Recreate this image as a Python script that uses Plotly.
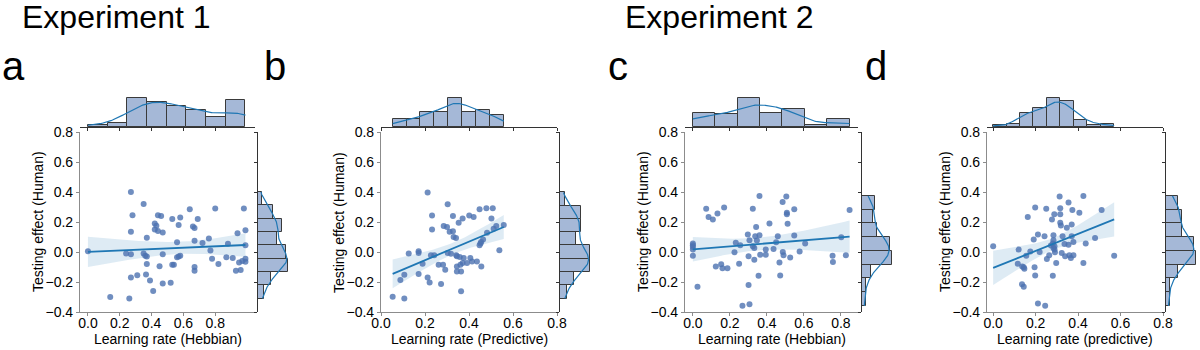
import numpy as np
import plotly.graph_objects as go

# ---------------- data ----------------
a_x = [0.00, 0.27, 0.35, 0.28, 0.27, 0.44, 0.46, 0.42, 0.43, 0.42, 0.37, 0.44, 0.47, 0.53, 0.58, 0.57,
       0.64, 0.66, 0.67, 0.69, 0.80, 0.98, 0.99, 0.94, 0.76, 0.72, 0.67, 0.56, 0.88, 0.77, 0.99, 0.24,
       0.27, 0.35, 0.36, 0.37, 0.47, 0.58, 0.57, 0.56, 0.78, 0.87, 0.91, 0.99, 0.99, 0.97, 0.95, 0.93,
       0.96, 0.82, 0.67, 0.67, 0.53, 0.54, 0.45, 0.37, 0.365, 0.31, 0.27, 0.39, 0.41, 0.47, 0.52, 0.14, 0.26]
a_y = [0.005, 0.40, 0.32, 0.245, 0.135, 0.245, 0.24, 0.19, 0.175, 0.15, 0.095, 0.14, 0.13, 0.22, 0.23, 0.18,
       0.285, 0.17, 0.16, 0.22, 0.29, 0.29, 0.145, 0.125, 0.09, 0.06, 0.075, 0.065, 0.055, 0.01, 0.045, -0.01,
       -0.015, -0.01, -0.025, -0.03, -0.015, -0.025, -0.03, -0.035, -0.045, -0.035, -0.04, -0.045, -0.065, -0.06, -0.07, -0.125,
       -0.12, -0.08, -0.10, -0.125, -0.085, -0.085, -0.095, -0.08, -0.15, -0.155, -0.17, -0.19, -0.26, -0.21, -0.205, -0.30, -0.31]

b_x = [0.053, 0.106, 0.088, 0.106, 0.126, 0.171, 0.171, 0.189, 0.171, 0.212, 0.221, 0.273, 0.212, 0.232, 0.232, 0.227,
       0.242, 0.262, 0.282, 0.292, 0.303, 0.285, 0.300, 0.312, 0.327, 0.330, 0.341, 0.327, 0.353, 0.371, 0.401, 0.421,
       0.448, 0.479, 0.508, 0.502, 0.512, 0.524, 0.558, 0.482, 0.464, 0.455, 0.452, 0.448, 0.538, 0.342, 0.345, 0.358,
       0.318, 0.303, 0.376, 0.406, 0.414, 0.391, 0.371, 0.361, 0.345, 0.364, 0.345, 0.436, 0.456, 0.364]
b_y = [-0.298, -0.31, -0.186, -0.152, -0.01, 0.005, -0.007, -0.078, -0.146, -0.17, -0.204, -0.213, 0.397, 0.244, 0.15, -0.022,
       -0.022, -0.085, -0.085, -0.119, 0.318, 0.173, 0.166, 0.135, 0.139, 0.10, 0.094, 0.24, 0.195, 0.224, 0.244, 0.233,
       0.285, 0.291, 0.291, 0.224, 0.155, 0.173, 0.18, 0.128, 0.083, 0.067, 0.056, 0.045, 0.011, -0.022, -0.029, -0.034,
       -0.011, -0.007, -0.04, -0.04, -0.063, -0.074, -0.074, -0.085, -0.096, -0.13, -0.13, -0.063, -0.096, -0.262]

c_x = [0.0, 0.0, 0.0, 0.0, 0.0, 0.025, 0.072, 0.085, 0.108, 0.133, 0.169, 0.124, 0.153, 0.160, 0.187, 0.232,
       0.225, 0.250, 0.256, 0.268, 0.306, 0.301, 0.297, 0.301, 0.306, 0.324, 0.324, 0.332, 0.332, 0.337, 0.346, 0.342,
       0.360, 0.360, 0.355, 0.364, 0.394, 0.394, 0.414, 0.436, 0.450, 0.459, 0.468, 0.472, 0.485, 0.486, 0.490, 0.505,
       0.508, 0.508, 0.512, 0.526, 0.548, 0.548, 0.577, 0.607, 0.755, 0.757, 0.802, 0.827, 0.847]
c_y = [0.056, 0.045, 0.034, 0.016, -0.025, -0.231, 0.289, 0.233, 0.217, 0.256, 0.296, -0.096, -0.081, -0.108, -0.108, 0.061,
       -0.002, -0.078, 0.045, -0.359, -0.348, -0.22, 0.117, -0.029, 0.078, 0.289, 0.038, 0.027, -0.052, 0.105, 0.076, 0.166,
       0.374, 0.112, -0.159, -0.018, -0.018, 0.016, 0.19, 0.02, 0.065, 0.105, -0.07, -0.157, 0.334, 0.0, -0.022, 0.37,
       0.262, 0.251, 0.188, -0.036, 0.285, 0.11, 0.004, 0.056, -0.025, -0.067, 0.099, -0.022, 0.28]

d_x = [0.0, 0.116, 0.120, 0.137, 0.144, 0.147, 0.156, 0.136, 0.144, 0.163, 0.191, 0.198, 0.175, 0.195, 0.198, 0.211,
       0.219, 0.211, 0.245, 0.242, 0.250, 0.253, 0.264, 0.272, 0.281, 0.277, 0.284, 0.289, 0.284, 0.284, 0.288, 0.291,
       0.281, 0.289, 0.297, 0.316, 0.316, 0.313, 0.316, 0.319, 0.323, 0.327, 0.336, 0.339, 0.347, 0.355, 0.355, 0.359,
       0.366, 0.370, 0.370, 0.373, 0.378, 0.378, 0.406, 0.425, 0.425, 0.436, 0.480, 0.511, 0.570]
d_y = [0.038, -0.078, 0.016, -0.096, -0.101, -0.112, -0.025, -0.215, -0.231, 0.233, 0.083, 0.296, 0.004, -0.101, -0.157, 0.117,
       0.0, -0.343, -0.359, 0.105, 0.289, -0.047, -0.022, 0.043, 0.056, 0.217, 0.027, 0.016, 0.112, 0.078, 0.251, -0.002,
       -0.159, 0.038, -0.074, 0.291, 0.251, 0.37, 0.195, 0.177, -0.007, 0.105, 0.054, -0.029, 0.161, 0.33, 0.049, -0.022,
       -0.04, 0.184, 0.105, 0.28, 0.067, -0.022, 0.262, 0.374, -0.074, 0.056, 0.094, 0.28, -0.025]

panel_letters = ["a", "b", "c", "d"]
x_titles = ["Learning rate (Hebbian)", "Learning rate (Predictive)",
            "Learning rate (Hebbian)", "Learning rate (predictive)"]
y_title = "Testing effect (Human)"
experiment_titles = ["Experiment 1", "Experiment 2"]
x_ticks = [0.0, 0.2, 0.4, 0.6, 0.8]
y_ticks = [-0.4, -0.2, 0.0, 0.2, 0.4, 0.6, 0.8]

# ---------------- style / layout ----------------
W, H = 1200, 350
FONT = "Liberation Sans, Arial, sans-serif"
PT = "#4c72b0"
LINE = "#1f77b4"
BAR_FILL = "rgba(76,114,176,0.5)"
BAR_EDGE = "#3a3a3a"
MAIN_SPINE = "#8c8c8c"
MARG_SPINE = "#333333"
TICK_SIZE = 14
TITLE_SIZE = 14

panels = [
    dict(x=a_x, y=a_y, main=(80, 255), right=(258, 290), xr=[-0.05, 1.05], nbx=8, nby=8),
    dict(x=b_x, y=b_y, main=(381, 557), right=(560, 592), xr=[0.0, 0.8], nbx=8, nby=8),
    dict(x=c_x, y=c_y, main=(685, 858), right=(862, 894), xr=[-0.0425, 0.8925], nbx=7, nby=8),
    dict(x=d_x, y=d_y, main=(987, 1163), right=(1166, 1198), xr=[-0.029, 0.8], nbx=9, nby=8),
]
MAIN_Y = (132, 312)
TOP_Y = (96, 127)


def px_x(a, b):
    return [a / W, b / W]


def px_y(top, bottom):
    return [1 - bottom / H, 1 - top / H]


def kde_curve(vals, edges, npts=200):
    v = np.asarray(vals, float)
    n = len(v)
    bw = np.std(v, ddof=1) * n ** (-1 / 5)
    g = np.linspace(v.min(), v.max(), npts)
    dens = np.exp(-0.5 * ((g[:, None] - v[None, :]) / bw) ** 2).sum(1) / (n * bw * np.sqrt(2 * np.pi))
    binw = edges[1] - edges[0]
    return g, dens * n * binw


fig = go.Figure()
layout = dict(width=W, height=H, margin=dict(l=0, r=0, t=0, b=0, pad=0, autoexpand=False),
              plot_bgcolor="white", paper_bgcolor="white", showlegend=False,
              font=dict(family=FONT, size=14, color="black"))
annotations = []

for i, p in enumerate(panels):
    k = 3 * i + 1
    xm, ym = f"x{k}" if k > 1 else "x", f"y{k}" if k > 1 else "y"
    xt, yt = f"x{k+1}", f"y{k+1}"
    xrg, yrg = f"x{k+2}", f"y{k+2}"
    xs = np.asarray(p["x"], float)
    ys = np.asarray(p["y"], float)
    n = len(xs)

    # regression + 95% CI
    b1, b0 = np.polyfit(xs, ys, 1)
    grid = np.linspace(xs.min(), xs.max(), 100)
    fit = b0 + b1 * grid
    resid = ys - (b0 + b1 * xs)
    s = np.sqrt((resid ** 2).sum() / (n - 2))
    sxx = ((xs - xs.mean()) ** 2).sum()
    se = s * np.sqrt(1 / n + (grid - xs.mean()) ** 2 / sxx)
    lo, hi = fit - 2.0 * se, fit + 2.0 * se

    fig.add_trace(go.Scatter(x=np.concatenate([grid, grid[::-1]]), y=np.concatenate([hi, lo[::-1]]),
                             fill="toself", fillcolor="rgba(31,119,180,0.15)", line=dict(width=0),
                             mode="lines", xaxis=xm, yaxis=ym, hoverinfo="skip"))
    fig.add_trace(go.Scatter(x=xs, y=ys, mode="markers",
                             marker=dict(size=6, color=PT, opacity=0.8, line=dict(width=0)),
                             xaxis=xm, yaxis=ym))
    fig.add_trace(go.Scatter(x=grid, y=fit, mode="lines", line=dict(color=LINE, width=1.8),
                             xaxis=xm, yaxis=ym))

    # top marginal histogram
    ex = np.linspace(xs.min(), xs.max(), p["nbx"] + 1)
    cx, _ = np.histogram(xs, bins=ex)
    fig.add_trace(go.Bar(x=(ex[:-1] + ex[1:]) / 2, y=cx, width=ex[1] - ex[0],
                         marker=dict(color=BAR_FILL, line=dict(color=BAR_EDGE, width=1)),
                         xaxis=xt, yaxis=yt))
    gx, kx = kde_curve(xs, ex)
    fig.add_trace(go.Scatter(x=gx, y=kx, mode="lines", line=dict(color=LINE, width=1.2),
                             xaxis=xt, yaxis=yt))

    # right marginal histogram
    ey = np.linspace(ys.min(), ys.max(), p["nby"] + 1)
    cy, _ = np.histogram(ys, bins=ey)
    fig.add_trace(go.Bar(y=(ey[:-1] + ey[1:]) / 2, x=cy, width=ey[1] - ey[0], orientation="h",
                         marker=dict(color=BAR_FILL, line=dict(color=BAR_EDGE, width=1)),
                         xaxis=xrg, yaxis=yrg))
    gy, ky = kde_curve(ys, ey)
    fig.add_trace(go.Scatter(y=gy, x=ky, mode="lines", line=dict(color=LINE, width=1.2),
                             xaxis=xrg, yaxis=yrg))

    mk = "" if k == 1 else str(k)
    layout[f"xaxis{mk}"] = dict(domain=px_x(*p["main"]), anchor=ym, range=p["xr"], automargin=False,
                                tickvals=x_ticks, tickformat=".1f", ticks="outside", ticklen=3,
                                ticklabelstandoff=-5,
                                tickcolor=MAIN_SPINE, showline=True, linecolor=MAIN_SPINE, linewidth=1.2,
                                showgrid=False, zeroline=False, tickfont=dict(size=TICK_SIZE))
    layout[f"yaxis{mk}"] = dict(domain=px_y(*MAIN_Y), anchor=xm, range=[-0.4, 0.8], automargin=False,
                                tickvals=y_ticks, tickformat=".1f", ticks="outside", ticklen=3,
                                tickcolor=MAIN_SPINE, showline=True, linecolor=MAIN_SPINE, linewidth=1.2,
                                showgrid=False, zeroline=False, tickfont=dict(size=TICK_SIZE))
    layout[f"xaxis{k+1}"] = dict(domain=px_x(*p["main"]), anchor=yt, matches=xm, automargin=False,
                                 tickvals=x_ticks, showticklabels=False, ticks="outside", ticklen=3,
                                 tickcolor=MARG_SPINE, showline=True, linecolor=MARG_SPINE, linewidth=1,
                                 showgrid=False, zeroline=False)
    layout[f"yaxis{k+1}"] = dict(domain=px_y(*TOP_Y), anchor=xt, range=[0, cx.max() * 1.07],
                                 visible=False, automargin=False)
    layout[f"xaxis{k+2}"] = dict(domain=px_x(*p["right"]), anchor=yrg, range=[0, cy.max() * 1.07],
                                 visible=False, automargin=False)
    layout[f"yaxis{k+2}"] = dict(domain=px_y(*MAIN_Y), anchor=xrg, matches=ym, automargin=False,
                                 tickvals=y_ticks, showticklabels=False, ticks="outside", ticklen=3,
                                 tickcolor=MARG_SPINE, showline=True, linecolor=MARG_SPINE, linewidth=1,
                                 showgrid=False, zeroline=False)

    # axis titles as annotations (precise placement)
    cxp = (p["main"][0] + p["main"][1]) / 2
    annotations.append(dict(text=x_titles[i], x=cxp / W, y=1 - 339 / H, xref="paper", yref="paper",
                            xanchor="center", yanchor="middle", showarrow=False,
                            font=dict(size=TITLE_SIZE, family=FONT, color="black")))
    annotations.append(dict(text=y_title, x=(p["main"][0] - 42) / W, y=1 - 222 / H, xref="paper",
                            yref="paper", xanchor="center", yanchor="middle", showarrow=False,
                            textangle=-90, font=dict(size=TITLE_SIZE, family=FONT, color="black")))

for txt, xpx in zip(experiment_titles, [20, 623]):
    annotations.append(dict(text=txt, x=xpx / W, y=1 - 17 / H, xref="paper", yref="paper",
                            xanchor="left", yanchor="middle", showarrow=False,
                            font=dict(size=32, family=FONT, color="black")))
for txt, xpx in zip(panel_letters, [0, 262, 606, 863]):
    annotations.append(dict(text=txt, x=xpx / W, y=1 - 66 / H, xref="paper", yref="paper",
                            xanchor="left", yanchor="middle", showarrow=False,
                            font=dict(size=40, family=FONT, color="black")))
layout["annotations"] = annotations
layout["bargap"] = 0
fig.update_layout(**layout)
fig.write_html("out.html", config={"displayModeBar": False},
               post_script="document.body.style.margin='0px';")
